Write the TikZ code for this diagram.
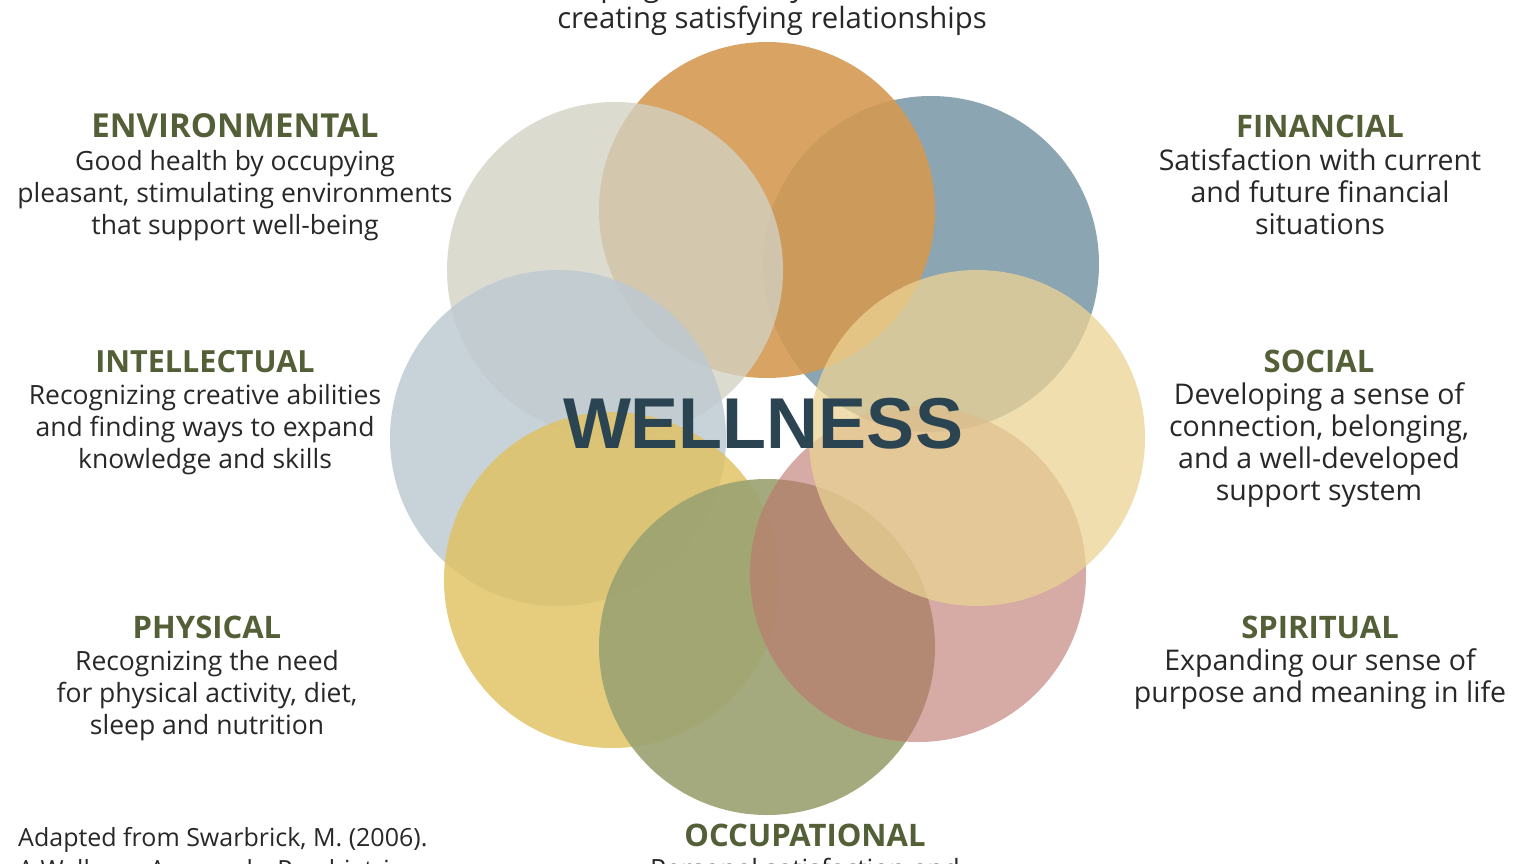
\documentclass[tikz,border=0pt]{standalone}
\usepackage{fontspec}
\setmainfont{Open Sans}
\newfontfamily\wellfont{Liberation Sans}
\definecolor{cBlue}{RGB}{140,165,178}
\definecolor{cOrange}{RGB}{212,154,83}
\definecolor{cGray}{RGB}{210,210,195}
\definecolor{cLBlue}{RGB}{189,201,210}
\definecolor{cYellow}{RGB}{224,194,97}
\definecolor{cGreen}{RGB}{157,163,114}
\definecolor{cPink}{RGB}{189,118,110}
\definecolor{cSocial}{RGB}{235,211,148}
\definecolor{headcol}{RGB}{83,95,54}
\definecolor{bodycol}{RGB}{40,40,40}
\definecolor{wellcol}{RGB}{42,68,82}
\begin{document}
\begin{tikzpicture}[x=1pt,y=-1pt,
  petal/.style={circle, minimum size=336pt, inner sep=0pt, draw=none},
  head/.style={anchor=base, font=\fontsize{31}{32}\selectfont\bfseries, text=headcol, inner sep=0pt},
  body/.style={anchor=base, font=\fontsize{26.5}{32}\selectfont, text=bodycol, inner sep=0pt, align=center},
  rbody/.style={body, font=\fontsize{28.5}{32}\selectfont},
  tbody/.style={body, font=\fontsize{29.3}{32}\selectfont},
  note/.style={anchor=base west, font=\fontsize{25}{32}\selectfont, text=bodycol, inner sep=0pt, align=left},
  well/.style={anchor=base, font=\wellfont\bfseries\fontsize{72}{72}\selectfont, text=wellcol, inner sep=0pt}
]
\useasboundingbox (0,0) rectangle (1536,864);
\fill[white] (0,0) rectangle (1536,864);
% petals
\node[petal, fill=cBlue] (fin) at (931,264) {};
\node[petal, fill=cOrange, fill opacity=0.9] (emo) at (767,210) {};
\node[petal, fill=cGray, fill opacity=0.78] (env) at (615,270) {};
\node[petal, fill=cLBlue, fill opacity=0.83] (int) at (558,438) {};
\node[petal, fill=cYellow, fill opacity=0.82] (phy) at (612,580) {};
\node[petal, fill=cGreen, fill opacity=0.92] (occ) at (767,647) {};
\node[petal, fill=cPink, fill opacity=0.62] (spi) at (918,574) {};
\node[petal, fill=cSocial, fill opacity=0.75] (soc) at (977,438) {};
% centre
\node[well] (wellness) at (763,448) {WELLNESS};
% top (base anchor = last line)
\node[tbody] (emot) at (772,29) {Coping effectively with life and\\creating satisfying relationships};
% left
\node[head, font=\fontsize{33}{32}\selectfont\bfseries] (envh) at (235,138) {ENVIRONMENTAL};
\node[body] (envt) at (235,234) {Good health by occupying\\pleasant, stimulating environments\\that support well-being};
\node[head, font=\fontsize{30.5}{32}\selectfont\bfseries] (inth) at (205,372) {INTELLECTUAL};
\node[body] (intt) at (205,468) {Recognizing creative abilities\\and finding ways to expand\\knowledge and skills};
\node[head] (phyh) at (207,638) {PHYSICAL};
\node[body] (phyt) at (207,734) {Recognizing the need\\for physical activity, diet,\\sleep and nutrition};
% right
\node[head] (finh) at (1320,138) {FINANCIAL};
\node[rbody] (fint) at (1320,234) {Satisfaction with current\\and future financial\\situations};
\node[head] (soch) at (1319,372) {SOCIAL};
\node[rbody] (soct) at (1319,500) {Developing a sense of\\connection, belonging,\\and a well-developed\\support system};
\node[head] (spih) at (1320,638) {SPIRITUAL};
\node[rbody] (spit) at (1320,702) {Expanding our sense of\\purpose and meaning in life};
% bottom
\node[head] (occh) at (805,846) {OCCUPATIONAL};
\node[body] (occt) at (805,878) {Personal satisfaction and};
\node[note] (src) at (18,878) {Adapted from Swarbrick, M. (2006).\\A Wellness Approach. Psychiatric};
\end{tikzpicture}
\end{document}
